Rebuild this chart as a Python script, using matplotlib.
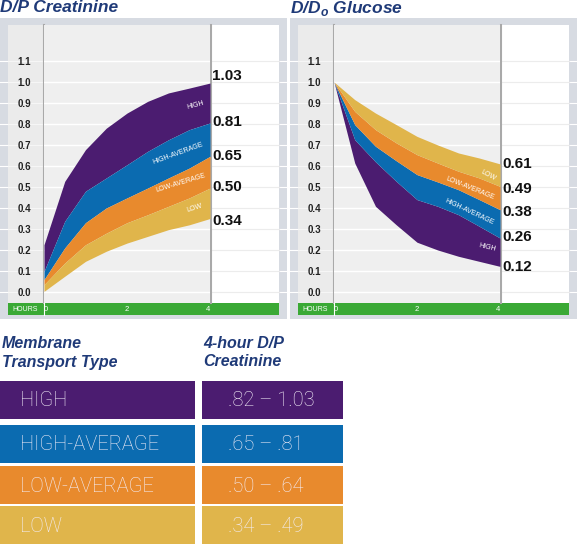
import matplotlib
matplotlib.use("Agg")
import matplotlib.pyplot as plt
from matplotlib.patches import Rectangle

W, H = 577, 545

# ---- data ----
hours = [0, 0.5, 1, 1.5, 2, 2.5, 3, 3.5, 4]

types = ["HIGH", "HIGH-AVERAGE", "LOW-AVERAGE", "LOW"]
type_colors = ["#4b1c70", "#0b6bb0", "#e88a2d", "#e0b54b"]

# D/P creatinine band edges (top of HIGH ... bottom of LOW)
creat_edges = [
    [0.225, 0.527, 0.678, 0.78, 0.852, 0.908, 0.948, 0.971, 0.995],
    [0.098, 0.337, 0.48, 0.543, 0.606, 0.67, 0.725, 0.773, 0.805],
    [0.059, 0.21, 0.33, 0.40, 0.448, 0.495, 0.543, 0.59, 0.646],
    [0.035, 0.138, 0.225, 0.28, 0.33, 0.368, 0.408, 0.448, 0.495],
    [0.003, 0.075, 0.146, 0.194, 0.233, 0.265, 0.297, 0.32, 0.35],
]
creat_end_labels = [1.03, 0.81, 0.65, 0.50, 0.34]

# D/Do glucose band edges (bottom of HIGH ... top of LOW)
gluc_edges = [
    [1.0, 0.614, 0.408, 0.32, 0.237, 0.20, 0.17, 0.146, 0.122],
    [1.0, 0.725, 0.62, 0.527, 0.44, 0.408, 0.368, 0.313, 0.257],
    [1.0, 0.797, 0.694, 0.625, 0.559, 0.524, 0.487, 0.44, 0.392],
    [1.0, 0.86, 0.773, 0.71, 0.654, 0.614, 0.575, 0.543, 0.503],
    [1.0, 0.916, 0.852, 0.797, 0.741, 0.70, 0.662, 0.638, 0.61],
]
gluc_end_labels = [0.61, 0.49, 0.38, 0.26, 0.12]

y_ticks = [0.0, 0.1, 0.2, 0.3, 0.4, 0.5, 0.6, 0.7, 0.8, 0.9, 1.0, 1.1]
x_ticks = [0, 2, 4]

table_ranges = [".82 \u2013 1.03", ".65 \u2013 .81", ".50 \u2013 .64", ".34 \u2013 .49"]

NAVY = "#1f3a78"
SANS = ["Liberation Sans", "DejaVu Sans"]
LIGHT = ["Roboto", "Liberation Sans", "DejaVu Sans"]

fig = plt.figure(figsize=(W / 100, H / 100), dpi=100)
bg = fig.add_axes([0, 0, 1, 1])
bg.set_xlim(0, W)
bg.set_ylim(H, 0)
bg.axis("off")


def rect(x0, y0, x1, y1, color, z=0):
    bg.add_patch(Rectangle((x0, y0), x1 - x0, y1 - y0, color=color, lw=0, zorder=z))


def fig_box(x0, y0, x1, y1):
    return [x0 / W, 1 - y1 / H, (x1 - x0) / W, (y1 - y0) / H]


def val_to_px(v):
    return 292 - v * 210


def draw_panel(ox, title, edges, colors, names, name_pos, end_labels):
    bg.text(ox, 8, title, fontsize=12.5, fontweight="bold", style="italic",
            color=NAVY, family=SANS, ha="left", va="center")
    rect(ox, 18, ox + 287, 319, "#d7dbe2")
    rect(ox + 8, 25, ox + 43, 303, "#ebebeb", 1)
    rect(ox + 211, 25, ox + 279, 303, "white", 1)
    rect(ox + 8, 303, ox + 279, 315, "#3aa935", 1)
    for v in y_ticks:
        yy = val_to_px(v)
        bg.plot([ox, ox + 8], [yy, yy], color="white", lw=0.8, zorder=1)
        bg.plot([ox + 279, ox + 287], [yy, yy], color="white", lw=0.8, zorder=1)
        bg.plot([ox + 8, ox + 43], [yy, yy], color="#f6f6f6", lw=0.8, zorder=2)
        bg.plot([ox + 211, ox + 279], [yy, yy], color="#ececec", lw=0.8, zorder=2)
    bg.plot([ox + 43.5] * 2, [25, 303], color="#a9a9a9", lw=1.5, zorder=3)
    bg.plot([ox + 210.5] * 2, [25, 303], color="#a9a9a9", lw=1.5, zorder=3)
    bg.plot([ox + 43.5] * 2, [303, 315], color="white", lw=0.8, zorder=3)
    bg.text(ox + 25.5, 309.5, "HOURS", color="white", fontsize=5, family=SANS,
            ha="center", va="center", zorder=4)

    ax = fig.add_axes(fig_box(ox + 44, 25, ox + 210, 303))
    ax.set_facecolor("#efefef")
    ax.set_xlim(0, 4)
    ax.set_ylim(-(303 - 292) / 210, (292 - 25) / 210)
    for s in ax.spines.values():
        s.set_visible(False)
    for v in y_ticks:
        ax.axhline(v, color="white", lw=1.0, zorder=1)
    for i, c in enumerate(colors):
        ax.fill_between(hours, edges[i], edges[i + 1], color=c, lw=0, zorder=2)

    ax.set_yticks(y_ticks)
    ax.set_yticklabels([f"{t:.1f}" for t in y_ticks], fontsize=7,
                       fontweight="bold", family=SANS, color="#222222")
    ax.tick_params(axis="y", length=0, pad=9.5)
    ax.set_xticks(x_ticks)
    ax.set_xticklabels([str(t) for t in x_ticks], fontsize=5.5, family=SANS,
                       color="white")
    ax.tick_params(axis="x", length=0, pad=2.2)
    xl = ax.get_xticklabels()
    xl[0].set_ha("left")
    xl[-1].set_ha("right")

    for name, (h, v, rot) in zip(names, name_pos):
        ax.text(h, v, name, rotation=rot, color="white", fontsize=5,
                family=SANS, ha="center", va="center", zorder=3,
                rotation_mode="anchor")
    for v in end_labels:
        ax.text(4.06, v, f"{v:.2f}", fontsize=11, fontweight="bold",
                family=SANS, color="#111111", ha="left", va="center",
                clip_on=False, zorder=5)
    return ax


draw_panel(0, "D/P Creatinine", creat_edges, type_colors, types,
           [(3.64, 0.89, 15), (3.22, 0.66, 20), (3.3, 0.52, 17), (3.64, 0.40, 18)],
           creat_end_labels)
draw_panel(290, "D/D$_\\mathregular{o}$ Glucose", gluc_edges, type_colors, types,
           [(3.69, 0.21, -13), (3.25, 0.38, -25), (3.28, 0.495, -22), (3.71, 0.557, -28)],
           gluc_end_labels)

# ---- table ----
for x0, lines in [(2, ["Membrane", "Transport Type"]), (203, ["4-hour D/P", "Creatinine"])]:
    for k, s in enumerate(lines):
        bg.text(x0, 343 + 19 * k, s, fontsize=11.5, fontweight="bold",
                style="italic", color=NAVY, family=SANS, ha="left", va="center")

row_tops = [381, 425, 466, 506]
row_h = 38
for name, rng, c, top in zip(types, table_ranges, type_colors, row_tops):
    rect(0, top, 195, top + row_h, c)
    rect(202, top, 343, top + row_h, c)
    yc = top + row_h / 2 + 1
    bg.text(20, yc, name, fontsize=14.5, fontweight="light", color="#f4eef8",
            family=LIGHT, ha="left", va="center")
    bg.text(228, yc, rng, fontsize=14.5, fontweight="light", color="#f4eef8",
            family=LIGHT, ha="left", va="center")

fig.savefig("out.png", dpi=100, facecolor="white")
